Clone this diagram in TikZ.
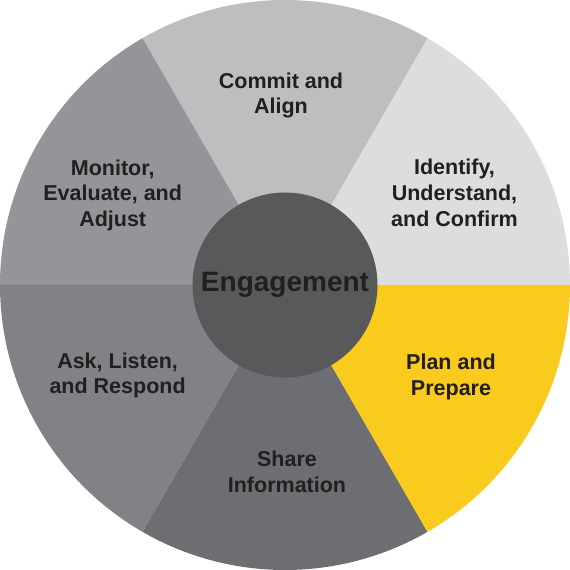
\documentclass[tikz,border=0pt]{standalone}
\usepackage{fontspec}
\setmainfont{Liberation Sans}
\usetikzlibrary{calc}

\begin{document}
\begin{tikzpicture}[x=1pt, y=1pt,
    etiqueta/.style={font=\bfseries\fontsize{21.5}{25.8}\selectfont, text=textdark, align=center, inner sep=0pt}]
    % --- Paleta ---
    \definecolor{identgray}{HTML}{DCDDDE}
    \definecolor{commitgray}{HTML}{BCBEC0}
    \definecolor{monitorgray}{HTML}{939598}
    \definecolor{askgray}{HTML}{808285}
    \definecolor{sharegray}{HTML}{6D6E71}
    \definecolor{planyellow}{HTML}{F9CB1C}
    \definecolor{hubgray}{HTML}{58595B}
    \definecolor{textdark}{HTML}{231F20}

    % --- Coordenadas Base ---
    \coordinate (O) at (0,0);
    \useasboundingbox (-285,-285) rectangle (285,285);

    % --- Sectores de la rueda ---
    \foreach \a/\c in {0/identgray, 60/commitgray, 120/monitorgray, 180/askgray, 240/sharegray, 300/planyellow} {
        \fill[\c] (O) -- (\a:285pt) arc[start angle=\a, delta angle=60, radius=285pt] -- cycle;
    }

    % --- Centro ---
    \fill[hubgray] (O) circle (92.5pt);
    \node[etiqueta, font=\bfseries\fontsize{28}{33}\selectfont, anchor=base] (engagement) at (0,-6) {Engagement};

    % --- Etiquetas de los sectores ---
    \node[etiqueta] (commit) at (-4,189.5) {Commit and\\Align};
    \node[etiqueta] (identify) at (169.5,92) {Identify,\\Understand,\\and Confirm};
    \node[etiqueta] (monitor) at (-172.3,89.6) {Monitor,\\Evaluate, and\\Adjust};
    \node[etiqueta] (ask) at (-167.4,-90.5) {Ask, Listen,\\and Respond};
    \node[etiqueta] (share) at (2,-186.5) {Share\\Information};
    \node[etiqueta] (plan) at (166,-92.2) {Plan and\\Prepare};
\end{tikzpicture}
\end{document}
